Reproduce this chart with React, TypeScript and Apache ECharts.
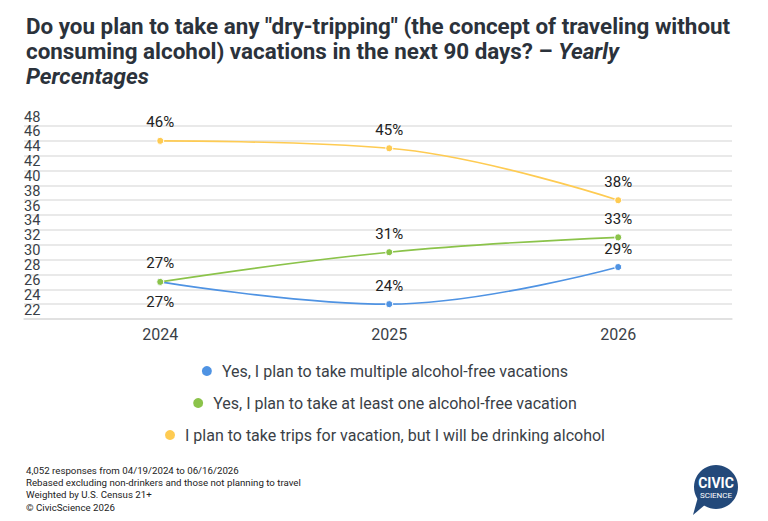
import React, { useEffect, useRef } from "react";
import * as echarts from "echarts";

const years = [2024, 2025, 2026];
const yTicks = { min: 22, max: 48, step: 2 };
const yTickLabels = ["22", "24", "26", "28", "30", "32", "34", "36", "38", "40", "42", "44", "46", "48"];

const seriesNames = [
  "Yes, I plan to take multiple alcohol-free vacations",
  "Yes, I plan to take at least one alcohol-free vacation",
  "I plan to take trips for vacation, but I will be drinking alcohol",
];
const multipleFree = [27, 24, 29];
const oneFree = [27, 31, 33];
const drinking = [46, 45, 38];
const multipleFreeLabelPos = ["bottom", "top", "top"];
const colors = ["#4f93e3", "#8bc34a", "#fecb52"];

const footerLines = [
  "4,052 responses from 04/19/2024 to 06/16/2026",
  "Rebased excluding non-drinkers and those not planning to travel",
  "Weighted by U.S. Census 21+",
  "\u00a9 CivicScience 2026",
];

const FONT = "Roboto, 'Noto Sans', sans-serif";

function makeSeries(name: string, vals: number[], color: string, pos?: string[]) {
  return {
    name,
    type: "line",
    yAxisIndex: 1,
    smooth: 0.4,
    symbol: "circle",
    symbolSize: 7,
    lineStyle: { color, width: 1.6 },
    itemStyle: { color, borderColor: "#fff", borderWidth: 1 },
    data: vals.map((v, i) => ({
      value: [years[i], v],
      label: { position: pos ? pos[i] : "top", distance: pos && pos[i] === "bottom" ? 9 : 7 },
    })),
    label: {
      show: true,
      formatter: (p: any) => p.value[1] + "%",
      fontFamily: FONT,
      fontSize: 15,
      color: "#222",
    },
  };
}

export default function App() {
  const ref = useRef<HTMLDivElement>(null);
  useEffect(() => {
    const chart = echarts.init(ref.current!, null, { renderer: "svg" });
    const legendTops = [358, 390, 422];
    chart.setOption({
      animation: false,
      backgroundColor: "#fff",
      title: {
        left: 26,
        top: 13,
        padding: 0,
        text:
          '{b|Do you plan to take any "dry-tripping" (the concept of traveling without}\n' +
          "{b|consuming alcohol) vacations in the next 90 days? \u2013 }{bi|Yearly}\n{bi|Percentages}",
        textStyle: {
          rich: {
            b: { fontFamily: FONT, fontSize: 22.4, fontWeight: "bold", color: "#2b323b", lineHeight: 25 },
            bi: { fontFamily: FONT, fontSize: 22.4, fontWeight: "bold", fontStyle: "italic", color: "#2b323b", lineHeight: 25 },
          },
        },
      },
      legend: seriesNames.map((n, i) => ({
        data: [n],
        left: "center",
        top: legendTops[i],
        icon: "circle",
        itemWidth: 20,
        itemHeight: 12,
        textStyle: { fontFamily: FONT, fontSize: 16, color: "#3a3f47" },
        selectedMode: false,
      })),
      grid: { left: 24, right: 36, top: 126, bottom: 202 },
      xAxis: {
        type: "value",
        min: 2023.405,
        max: 2026.497,
        axisLine: { show: true, lineStyle: { color: "#dedede", width: 1.5 } },
        axisTick: { show: false },
        splitLine: { show: false },
        axisLabel: {
          customValues: years,
          formatter: (v: number) => String(v),
          fontFamily: FONT,
          fontSize: 16,
          color: "#3a3f47",
          margin: 7,
        },
      },
      yAxis: [
        {
          type: "category",
          data: yTickLabels,
          boundaryGap: false,
          axisLine: { show: false },
          axisTick: { show: false },
          splitLine: { show: true, interval: 0, lineStyle: { color: "#e2e2e2", width: 1.5 } },
          axisLabel: {
            interval: 0,
            inside: true,
            margin: 0,
            verticalAlign: "bottom",
            fontFamily: FONT,
            fontSize: 14.6,
            lineHeight: 8,
            padding: [0, 0, 5.5, 0],
            color: "#3a3f47",
          },
        },
        {
          type: "value",
          min: yTicks.min,
          max: yTicks.max,
          interval: yTicks.step,
          show: false,
          splitLine: { show: false },
        },
      ],
      series: [
        makeSeries(seriesNames[0], multipleFree, colors[0], multipleFreeLabelPos),
        makeSeries(seriesNames[1], oneFree, colors[1]),
        makeSeries(seriesNames[2], drinking, colors[2]),
      ],
      graphic: [
        ...footerLines.map((t, i) => ({
          type: "text",
          left: 26,
          top: 465 + i * 12.4,
          style: { text: t, fontFamily: FONT, fontSize: 9.7, fill: "#222" },
        })),
        {
          type: "group",
          left: 693,
          top: 465,
          children: [
            { type: "polygon", shape: { points: [[7, 32], [15, 39], [2, 50]] }, style: { fill: "#23497a" } },
            { type: "circle", shape: { cx: 25, cy: 22, r: 22 }, style: { fill: "#23497a" } },
            {
              type: "text",
              style: { text: "CIVIC", x: 25, y: 18, align: "center", verticalAlign: "middle", fontFamily: FONT, fontSize: 14, fontWeight: "bold", fill: "#fff" },
            },
            {
              type: "text",
              style: { text: "SCIENCE", x: 25, y: 30, align: "center", verticalAlign: "middle", fontFamily: FONT, fontSize: 8, fill: "#fff" },
            },
          ],
        },
      ],
    });
    return () => chart.dispose();
  }, []);
  return <div ref={ref} style={{ width: 768, height: 521, position: "absolute", left: 0, top: 0 }} />;
}
